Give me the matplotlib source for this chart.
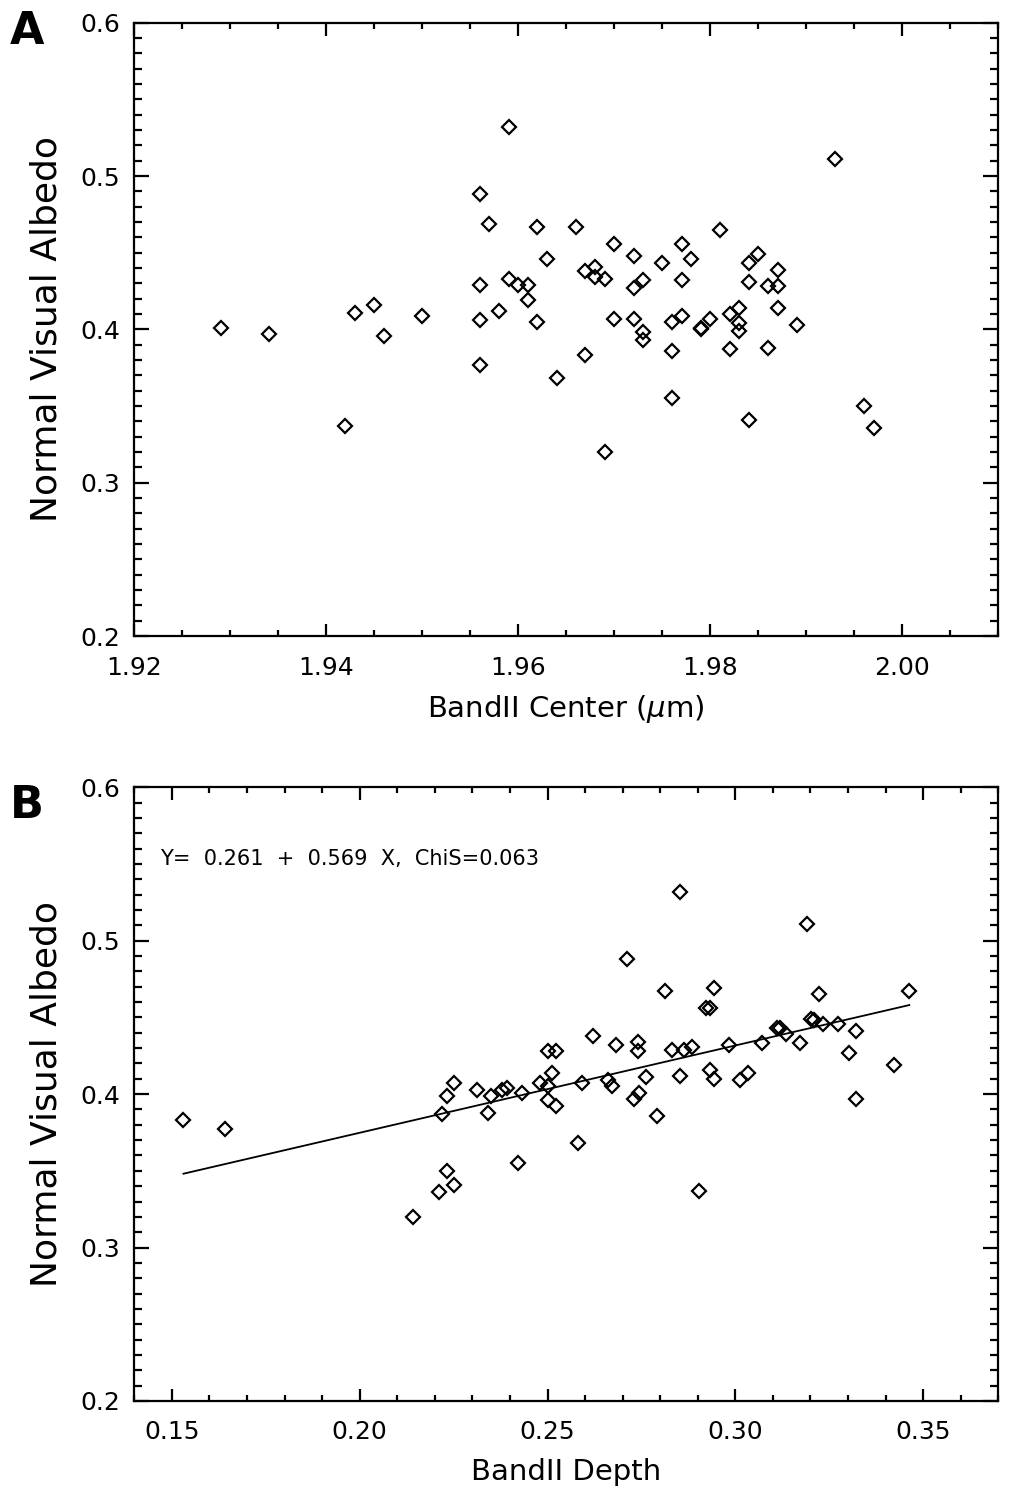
import matplotlib
matplotlib.use("Agg")
import matplotlib.pyplot as plt
import numpy as np
from matplotlib.ticker import MultipleLocator, FormatStrFormatter

plt.rcParams['font.family'] = ['DejaVu Sans']
plt.rcParams['mathtext.fontset'] = 'dejavusans'

# --- Datos panel A: centro de banda II vs albedo ---
band2_center = [1.929, 1.934, 1.943, 1.945, 1.946, 1.950, 1.942, 1.956, 1.959, 1.957,
                1.962, 1.963, 1.956, 1.959, 1.960, 1.961, 1.961, 1.958, 1.956, 1.962,
                1.956, 1.964, 1.966, 1.970, 1.972, 1.967, 1.968, 1.968, 1.969, 1.972,
                1.973, 1.975, 1.977, 1.978, 1.977, 1.981, 1.985, 1.984, 1.987, 1.984,
                1.986, 1.987, 1.987, 1.970, 1.972, 1.973, 1.973, 1.976, 1.977, 1.979,
                1.979, 1.980, 1.982, 1.983, 1.983, 1.983, 1.989, 1.967, 1.976, 1.982,
                1.986, 1.976, 1.984, 1.969, 1.993, 1.996, 1.997]
albedo_a = [0.401, 0.397, 0.411, 0.416, 0.396, 0.409, 0.337, 0.488, 0.532, 0.469,
            0.467, 0.446, 0.429, 0.433, 0.429, 0.429, 0.419, 0.412, 0.406, 0.405,
            0.377, 0.368, 0.467, 0.456, 0.448, 0.438, 0.441, 0.434, 0.433, 0.427,
            0.432, 0.443, 0.456, 0.446, 0.432, 0.465, 0.449, 0.443, 0.439, 0.431,
            0.428, 0.428, 0.414, 0.407, 0.407, 0.398, 0.393, 0.405, 0.409, 0.401,
            0.400, 0.407, 0.410, 0.414, 0.404, 0.399, 0.403, 0.383, 0.386, 0.387,
            0.388, 0.355, 0.341, 0.320, 0.511, 0.350, 0.336]

# --- Datos panel B: profundidad de banda II vs albedo ---
band2_depth = [0.1531, 0.1642, 0.2141, 0.2211, 0.2232, 0.2251, 0.2220, 0.2232, 0.2251, 0.2312,
               0.2341, 0.2350, 0.2380, 0.2392, 0.2431, 0.2421, 0.2481, 0.2501, 0.2523, 0.2513,
               0.2501, 0.2501, 0.2523, 0.2853, 0.3192, 0.2712, 0.2812, 0.2942, 0.3223, 0.3463,
               0.2923, 0.2932, 0.2621, 0.2681, 0.2742, 0.2742, 0.2832, 0.2862, 0.2884, 0.2982,
               0.3072, 0.3112, 0.3120, 0.3134, 0.3171, 0.3202, 0.3210, 0.3234, 0.3273, 0.3322,
               0.3303, 0.3423, 0.3322, 0.2592, 0.2661, 0.2672, 0.2762, 0.2731, 0.2744, 0.2853,
               0.2932, 0.2942, 0.3013, 0.3033, 0.2792, 0.2582, 0.2902]
albedo_b = [0.383, 0.377, 0.320, 0.336, 0.350, 0.341, 0.387, 0.399, 0.407, 0.403,
            0.388, 0.399, 0.403, 0.404, 0.401, 0.355, 0.407, 0.428, 0.428, 0.414,
            0.405, 0.396, 0.392, 0.532, 0.511, 0.488, 0.467, 0.469, 0.465, 0.467,
            0.456, 0.456, 0.438, 0.432, 0.434, 0.428, 0.429, 0.429, 0.431, 0.432,
            0.433, 0.443, 0.443, 0.439, 0.433, 0.449, 0.448, 0.446, 0.446, 0.441,
            0.427, 0.419, 0.397, 0.407, 0.409, 0.405, 0.411, 0.397, 0.401, 0.412,
            0.416, 0.410, 0.409, 0.414, 0.386, 0.368, 0.337]

# ajuste lineal (del texto de la figura)
fit_a, fit_b, chis = 0.261, 0.569, 0.063

fig = plt.figure(figsize=(10.21, 15.03), dpi=100)
ax1 = fig.add_axes([0.1315, 0.5768, 0.8463, 0.4081])
ax2 = fig.add_axes([0.1315, 0.0679, 0.8463, 0.4083])


def style_axis(ax, xmajor, xminor, xfmt):
    ax.set_ylim(0.2, 0.6)
    ax.yaxis.set_major_locator(MultipleLocator(0.1))
    ax.yaxis.set_minor_locator(MultipleLocator(0.01))
    ax.yaxis.set_major_formatter(FormatStrFormatter('%.1f'))
    ax.xaxis.set_major_locator(MultipleLocator(xmajor))
    ax.xaxis.set_minor_locator(MultipleLocator(xminor))
    ax.xaxis.set_major_formatter(FormatStrFormatter(xfmt))
    ax.tick_params(axis='both', which='both', direction='in', top=True, right=True,
                   width=1.6, colors='black')
    ax.tick_params(axis='y', which='major', length=11, labelsize=18, pad=10)
    ax.tick_params(axis='y', which='minor', length=6)
    ax.tick_params(axis='x', which='major', length=9, labelsize=18, pad=14)
    ax.tick_params(axis='x', which='minor', length=4.5)
    for s in ax.spines.values():
        s.set_linewidth(1.6)
    ax.set_ylabel('Normal Visual Albedo', fontsize=26, labelpad=12)


# --- Panel A ---
ax1.plot(band2_center, albedo_a, linestyle='none', marker='D', markersize=7.5,
         markerfacecolor='none', markeredgecolor='black', markeredgewidth=1.6)
ax1.set_xlim(1.92, 2.01)
style_axis(ax1, 0.02, 0.005, '%.2f')
ax1.set_xlabel('BandII Center ($\\mu$m)', fontsize=21, labelpad=10)
fig.text(0.026, 0.979, 'A', fontsize=32, fontweight='bold', ha='center', va='center')

# --- Panel B ---
ax2.plot(band2_depth, albedo_b, linestyle='none', marker='D', markersize=7.5,
         markerfacecolor='none', markeredgecolor='black', markeredgewidth=1.6)
xfit = np.array([min(band2_depth), max(band2_depth)])
ax2.plot(xfit, fit_a + fit_b * xfit, color='black', linewidth=1.3)
ax2.set_xlim(0.14, 0.37)
style_axis(ax2, 0.05, 0.01, '%.2f')
ax2.set_xlabel('BandII Depth', fontsize=21, labelpad=10)
ax2.text(0.1468, 0.553, f'Y=  {fit_a:.3f}  +  {fit_b:.3f}  X,  ChiS={chis:.3f}',
         fontsize=15, ha='left', va='center')
fig.text(0.026, 0.464, 'B', fontsize=32, fontweight='bold', ha='center', va='center')

fig.savefig('out.png', dpi=100)
